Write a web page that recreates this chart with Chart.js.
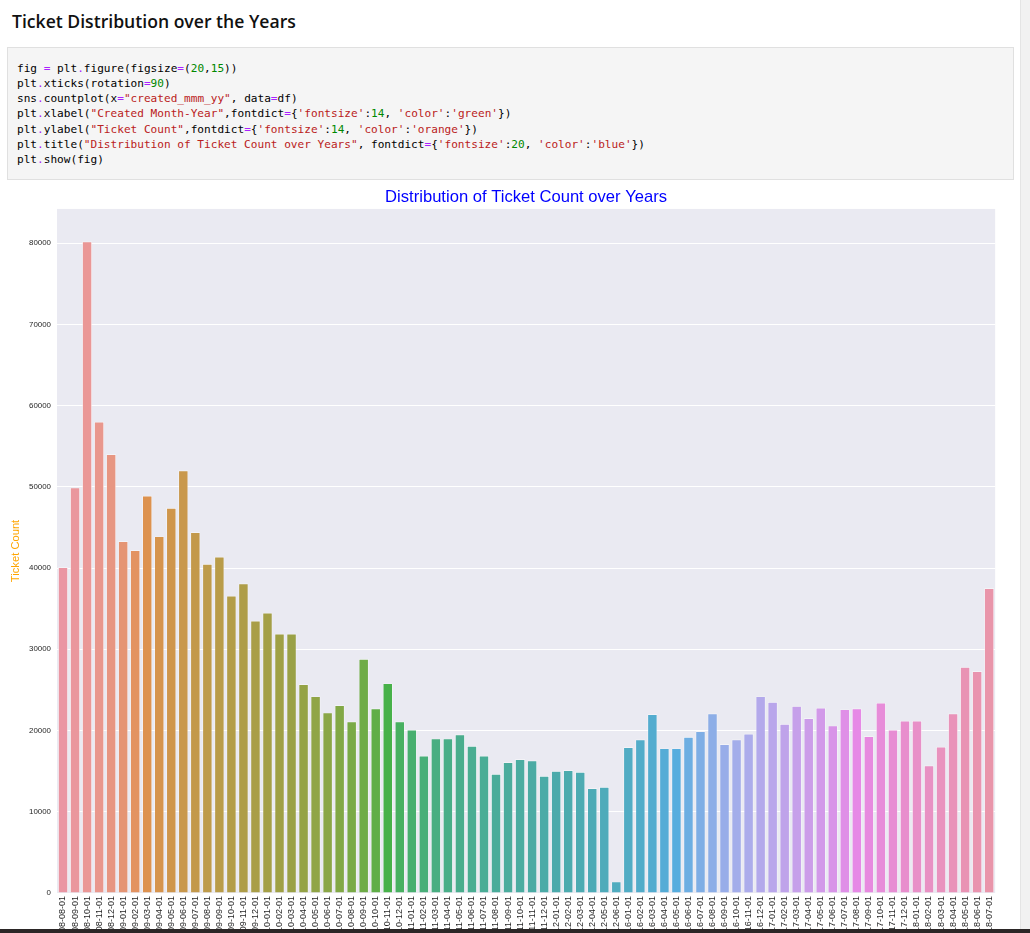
<!DOCTYPE html>
<html lang="en">
<head>
<meta charset="UTF-8">
<title>Ticket Distribution over the Years</title>
<script src="https://cdn.jsdelivr.net/npm/chart.js"></script>
<style>
    html, body { margin: 0; padding: 0; width: 1030px; height: 933px; overflow: hidden; background: #fff; }
    .heading { position: absolute; left: 12px; top: 9px; font-family: "Open Sans", sans-serif; font-weight: 600; font-size: 17.6px; line-height: 24px; color: #111; }
    .code { position: absolute; left: 7px; top: 47px; width: 1007px; height: 133px; box-sizing: border-box; margin: 0;
            padding: 12.7px 9px 0 9px; background: #f5f5f5; border: 1px solid #e0e0e0;
            font-family: "DejaVu Sans Mono", monospace; font-size: 11.1px; line-height: 15.2px; color: #000; white-space: pre; }
    .op { color: #aa22ff; }
    .num { color: #008800; }
    .str { color: #ba2121; }
    #plotClip { position: absolute; left: 0; top: 179px; width: 1010px; height: 750px; overflow: hidden; }
    #plotBox { position: relative; width: 1003px; height: 784px; }
    .scroll { position: absolute; left: 1020px; top: 0; width: 10px; height: 933px; background: #f1f1f1; border-left: 1px solid #e4e4e4; }
    .taskbar { position: absolute; left: 0; top: 929px; width: 1030px; height: 4px; background: #2b2626; }
</style>
</head>
<body>
<div class="heading">Ticket Distribution over the Years</div>
<pre class="code">fig <span class="op">=</span> plt<span class="op">.</span>figure(figsize<span class="op">=</span>(<span class="num">20</span>,<span class="num">15</span>))
plt<span class="op">.</span>xticks(rotation<span class="op">=</span><span class="num">90</span>)
sns<span class="op">.</span>countplot(x<span class="op">=</span><span class="str">"created_mmm_yy"</span>, data<span class="op">=</span>df)
plt<span class="op">.</span>xlabel(<span class="str">"Created Month-Year"</span>,fontdict<span class="op">=</span>{<span class="str">'fontsize'</span>:<span class="num">14</span>, <span class="str">'color'</span>:<span class="str">'green'</span>})
plt<span class="op">.</span>ylabel(<span class="str">"Ticket Count"</span>,fontdict<span class="op">=</span>{<span class="str">'fontsize'</span>:<span class="num">14</span>, <span class="str">'color'</span>:<span class="str">'orange'</span>})
plt<span class="op">.</span>title(<span class="str">"Distribution of Ticket Count over Years"</span>, fontdict<span class="op">=</span>{<span class="str">'fontsize'</span>:<span class="num">20</span>, <span class="str">'color'</span>:<span class="str">'blue'</span>})
plt<span class="op">.</span>show(fig)</pre>

<div id="plotClip"><div id="plotBox"><canvas id="ticketChart"></canvas></div></div>
<div class="scroll"></div>
<div class="taskbar"></div>

<script>
// Month labels (created_mmm_yy) as they appear on the x axis
const months = [
    "2008-08-01", "2008-09-01", "2008-10-01", "2008-11-01", "2008-12-01",
    "2009-01-01", "2009-02-01", "2009-03-01", "2009-04-01", "2009-05-01", "2009-06-01",
    "2009-07-01", "2009-08-01", "2009-09-01", "2009-10-01", "2009-11-01", "2009-12-01",
    "2010-01-01", "2010-02-01", "2010-03-01", "2010-04-01", "2010-05-01", "2010-06-01",
    "2010-07-01", "2010-08-01", "2010-09-01", "2010-10-01", "2010-11-01", "2010-12-01",
    "2011-01-01", "2011-02-01", "2011-03-01", "2011-04-01", "2011-05-01", "2011-06-01",
    "2011-07-01", "2011-08-01", "2011-09-01", "2011-10-01", "2011-11-01", "2011-12-01",
    "2012-01-01", "2012-02-01", "2012-03-01", "2012-04-01", "2012-05-01", "2012-06-01",
    "2016-01-01", "2016-02-01", "2016-03-01", "2016-04-01", "2016-05-01", "2016-06-01",
    "2016-07-01", "2016-08-01", "2016-09-01", "2016-10-01", "2016-11-01", "2016-12-01",
    "2017-01-01", "2017-02-01", "2017-03-01", "2017-04-01", "2017-05-01", "2017-06-01",
    "2017-07-01", "2017-08-01", "2017-09-01", "2017-10-01", "2017-11-01", "2017-12-01",
    "2018-01-01", "2018-02-01", "2018-03-01", "2018-04-01", "2018-05-01", "2018-06-01",
    "2018-07-01"
];

// Ticket counts per month
const ticketCounts = [
    40100, 49900, 80200, 58000, 54000,
    43300, 42200, 48900, 43900, 47400, 52000,
    44400, 40500, 41400, 36600, 38100, 33500,
    34500, 31900, 31900, 25700, 24200, 22200,
    23100, 21100, 28800, 22700, 25800, 21100,
    20100, 16900, 19000, 19000, 19500, 18100,
    16900, 14650, 16100, 16450, 16300, 14400,
    15000, 15100, 14900, 12900, 13050, 1400,
    17950, 18900, 22000, 17800, 17800, 19200,
    19900, 22100, 18300, 18900, 19600, 24200,
    23500, 20800, 23000, 21500, 22800, 20600,
    22600, 22700, 19300, 23400, 20100, 21200,
    21200, 15700, 18000, 22100, 27800, 27300,
    37500
];

const yTicks = [0, 10000, 20000, 30000, 40000, 50000, 60000, 70000, 80000];
const yMax = 84210;

// seaborn husl palette as countplot builds it for many bars (l=.7), then desaturated to .75
const M = [[3.2406, -1.5372, -0.4986], [-0.9689, 1.8758, 0.0415], [0.0557, -0.2040, 1.0570]];

function maxChroma(L, H) {
    const hrad = H * Math.PI / 180;
    const sinH = Math.sin(hrad), cosH = Math.cos(hrad);
    const sub1 = Math.pow(L + 16, 3) / 1560896;
    const sub2 = sub1 > 0.008856 ? sub1 : L / 903.3;
    let result = Infinity;
    M.forEach(([m1, m2, m3]) => {
        const top = (0.99915 * m1 + 1.05122 * m2 + 1.14460 * m3) * sub2;
        const rbottom = 0.86330 * m3 - 0.17266 * m2;
        const lbottom = 0.12949 * m3 - 0.38848 * m1;
        const bottom = (rbottom * sinH + lbottom * cosH) * sub2;
        [0, 1].forEach(t => {
            const C = L * (top - 1.05122 * t) / (bottom + 0.17266 * sinH * t);
            if (C > 0 && C < result) result = C;
        });
    });
    return result;
}

function huslToRgb(H, S, L) {
    const C = maxChroma(L, H) / 100 * S;
    const hrad = H * Math.PI / 180;
    const U = Math.cos(hrad) * C, V = Math.sin(hrad) * C;
    const t = (L + 16) / 116;
    const Y = Math.pow(t, 3) > 0.008856 ? Math.pow(t, 3) : (116 * t - 16) / 903.3;
    const varU = U / (13 * L) + 0.19784;
    const varV = V / (13 * L) + 0.46834;
    const X = -(9 * Y * varU) / ((varU - 4) * varV - varU * varV);
    const Z = (9 * Y - 15 * varV * Y - varV * X) / (3 * varV);
    return M.map(row => {
        const c = row[0] * X + row[1] * Y + row[2] * Z;
        const v = c <= 0.0031308 ? 12.92 * c : 1.055 * Math.pow(c, 1 / 2.4) - 0.055;
        return Math.min(1, Math.max(0, v));
    });
}

function desaturate([r, g, b], prop) {
    const max = Math.max(r, g, b), min = Math.min(r, g, b);
    const l = (max + min) / 2;
    let h = 0, s = 0;
    if (max !== min) {
        const d = max - min;
        s = l > 0.5 ? d / (2 - max - min) : d / (max + min);
        if (max === r) h = ((g - b) / d + (g < b ? 6 : 0));
        else if (max === g) h = (b - r) / d + 2;
        else h = (r - g) / d + 4;
        h *= 60;
    }
    return `hsl(${h.toFixed(2)}, ${(s * prop * 100).toFixed(2)}%, ${(l * 100).toFixed(2)}%)`;
}

function huslPalette(n) {
    const colors = [];
    for (let i = 0; i < n; i++) {
        const hue = ((i / n + 0.01) % 1) * 359;
        colors.push(desaturate(huslToRgb(hue, 0.9 * 99, 0.7 * 99), 0.75));
    }
    return colors;
}

// Grey-blue axes face (seaborn darkgrid)
const plotBackground = {
    id: "plotBackground",
    beforeDraw(chart) {
        const { ctx, chartArea: a } = chart;
        ctx.save();
        ctx.fillStyle = "#eaeaf2";
        ctx.fillRect(a.left, a.top, a.right - a.left, a.bottom - a.top);
        ctx.restore();
    }
};

document.addEventListener("DOMContentLoaded", () => {
    const ctx = document.getElementById("ticketChart").getContext("2d");
    new Chart(ctx, {
        type: "bar",
        data: {
            labels: months,
            datasets: [{
                label: "count",
                data: ticketCounts,
                backgroundColor: huslPalette(months.length),
                borderColor: "rgba(255,255,255,0.75)",
                borderWidth: 0.7,
                barPercentage: 0.82,
                categoryPercentage: 1.0
            }]
        },
        options: {
            responsive: true,
            maintainAspectRatio: false,
            animation: false,
            layout: { padding: 0 },
            plugins: {
                legend: { display: false },
                tooltip: { enabled: false },
                title: {
                    display: true,
                    text: "Distribution of Ticket Count over Years",
                    color: "#0000ff",
                    fullSize: false,
                    font: { family: "Liberation Sans", size: 16.6, weight: "normal" },
                    padding: { top: 8, bottom: 2 }
                }
            },
            scales: {
                x: {
                    offset: true,
                    grid: { display: false, drawTicks: false },
                    border: { display: false },
                    ticks: {
                        autoSkip: false,
                        minRotation: 90,
                        maxRotation: 90,
                        padding: 3,
                        color: "#262626",
                        font: { family: "Liberation Sans", size: 9 }
                    },
                    title: {
                        display: true,
                        text: "Created Month-Year",
                        color: "#008000",
                        font: { family: "Liberation Sans", size: 11.2 }
                    },
                    afterFit: scale => { scale.height = 70; }
                },
                y: {
                    min: 0,
                    max: yMax,
                    grid: { color: "#ffffff", lineWidth: 1, drawTicks: false },
                    border: { display: false },
                    afterBuildTicks: axis => { axis.ticks = yTicks.map(v => ({ value: v })); },
                    ticks: {
                        padding: 6,
                        color: "#262626",
                        font: { family: "Liberation Sans", size: 7.9 },
                        callback: v => String(v)
                    },
                    title: {
                        display: true,
                        text: "Ticket Count",
                        color: "#ffa500",
                        padding: { top: 9, bottom: 0 },
                        font: { family: "Liberation Sans", size: 11.2 }
                    },
                    afterFit: scale => { scale.width = 57; }
                }
            }
        },
        plugins: [plotBackground]
    });
});
</script>
</body>
</html>
